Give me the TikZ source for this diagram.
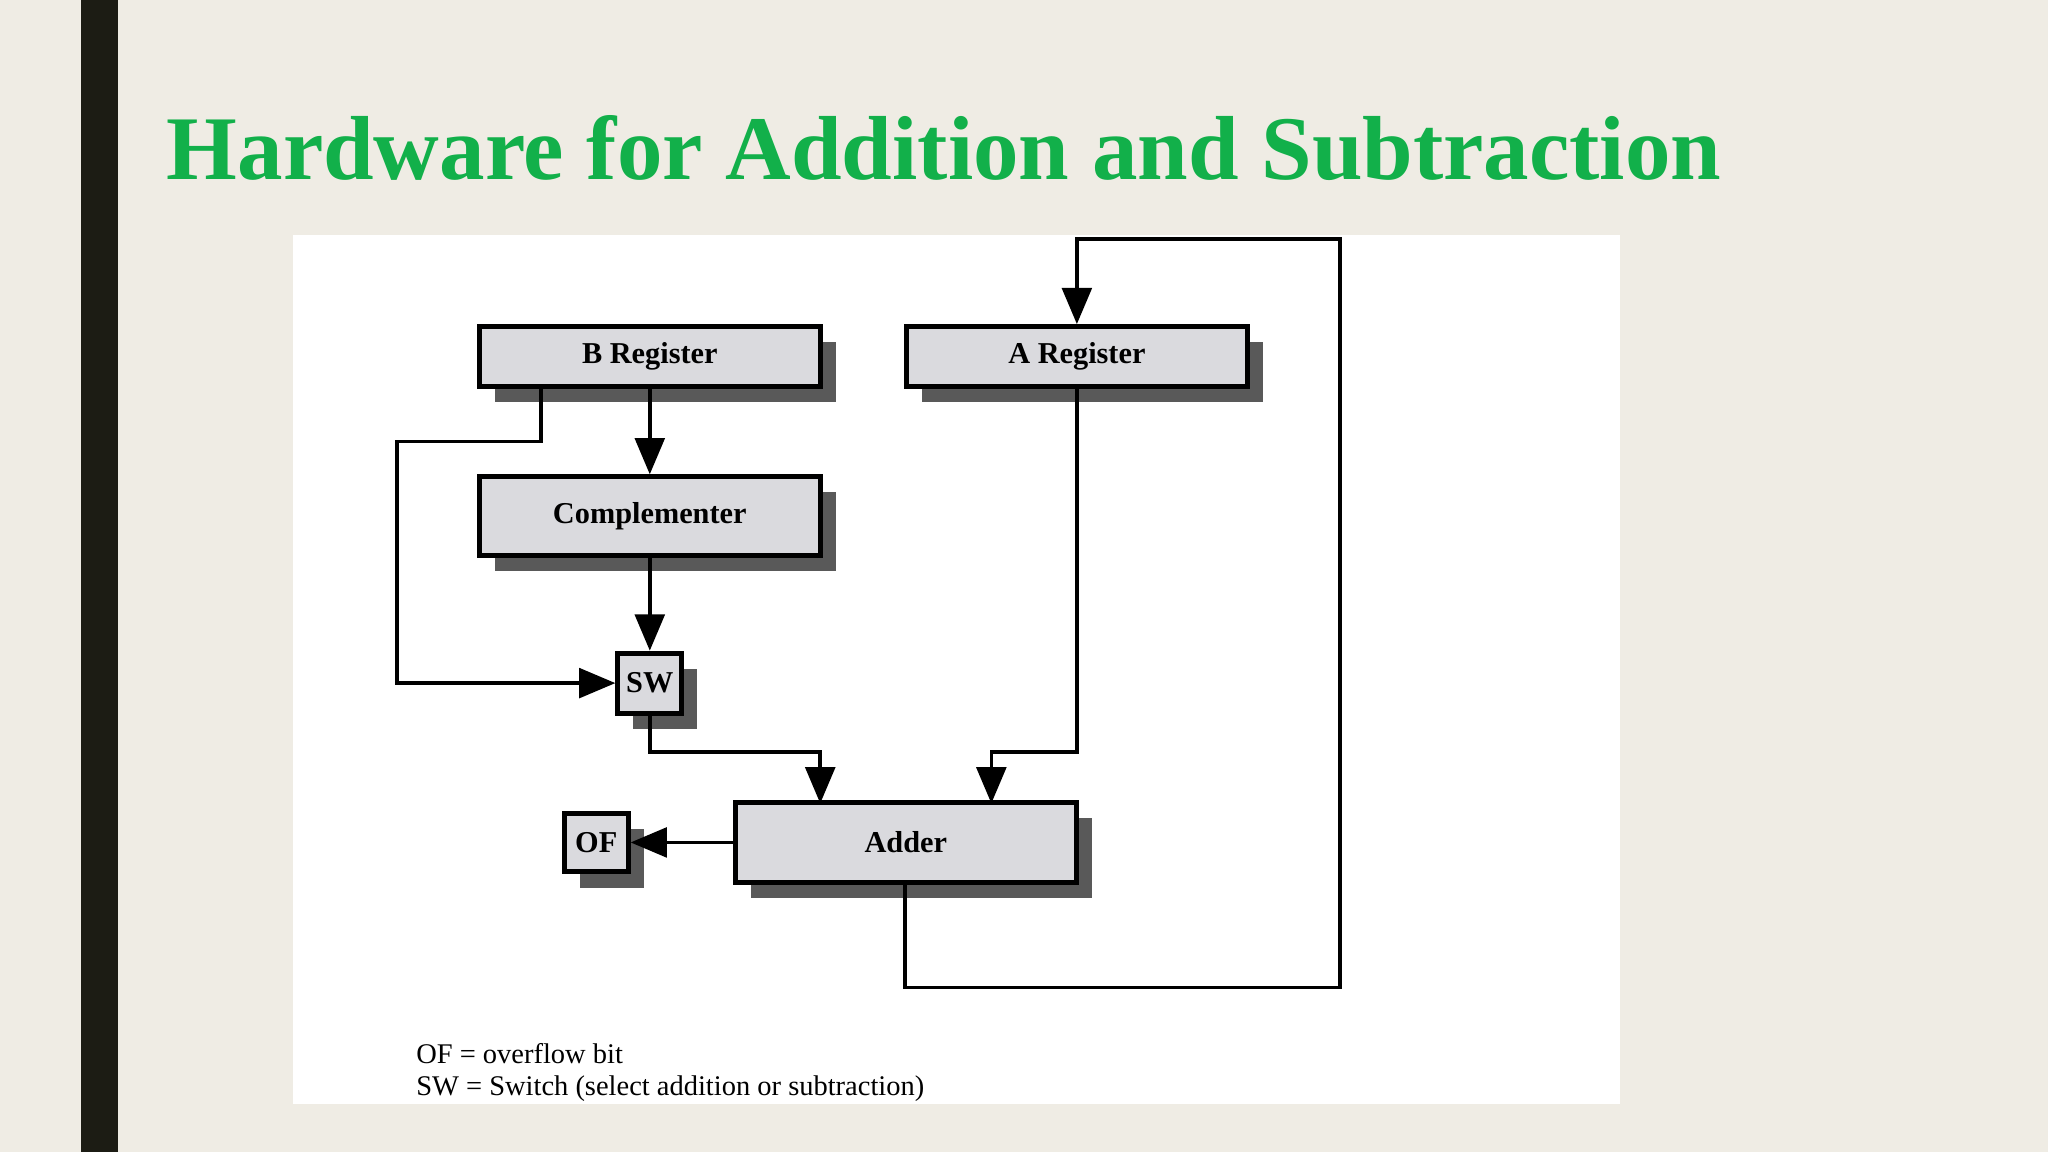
\documentclass[tikz,border=0pt]{standalone}
\usepackage{fontspec}
\setmainfont{Liberation Serif}
\usepackage{tikz}
\usetikzlibrary{arrows,shadows}
\definecolor{slidebg}{HTML}{EFECE4}
\definecolor{barcol}{HTML}{1C1C14}
\definecolor{titlegreen}{HTML}{12B04A}
\definecolor{boxgray}{HTML}{DADADE}
\tikzset{
  blk/.style={draw=black,line width=1.1pt,fill=boxgray,inner sep=0pt,
    font=\fontsize{6.6}{7}\selectfont\bfseries,
    copy shadow={shadow xshift=0.12cm,shadow yshift=-0.12cm,fill=black!65,draw=none}},
  wire/.style={line width=0.8pt,->}
}
\begin{document}
\begin{tikzpicture}[line cap=butt,line join=miter,>=triangle 45,x=0.01cm,y=-0.01cm]
		\useasboundingbox (0,0) rectangle (1568,882);
		\fill[slidebg] (0,0) rectangle (1568,882);
		\fill[barcol] (62,0) rectangle (90,882);
		\node[anchor=west,inner sep=0pt,text=titlegreen,font=\fontsize{19.8}{24}\selectfont\bfseries] (title) at (127,113) {Hardware for Addition and Subtraction};
		\fill[white] (224,180) rectangle (1240,845);
		% blocks
		\node[blk,minimum width=2.61cm,minimum height=0.46cm] (breg) at (497.5,273) {B Register};
		\node[blk,minimum width=2.61cm,minimum height=0.46cm] (areg) at (824.5,273) {A Register};
		\node[blk,minimum width=2.61cm,minimum height=0.6cm] (comp) at (497.5,395) {Complementer};
		\node[blk,minimum width=0.49cm,minimum height=0.46cm] (sw) at (497.5,523) {SW};
		\node[blk,minimum width=2.61cm,minimum height=0.61cm] (adder) at (693.5,645) {Adder};
		\node[blk,minimum width=0.49cm,minimum height=0.45cm] (of) at (456.5,645) {OF};
		% connectors
		\coordinate (bt) at (414,296);
		\coordinate (at) at (693,676);
		\draw[wire] (breg.south) -- (comp.north);
		\draw[wire] (bt) -- (414,338) -- (304,338) -- (304,523) -- (sw.west);
		\draw[wire] (comp.south) -- (sw.north);
		\draw[wire] (sw.south) -- (497.5,576) -- (628,576) -- (628,615);
		\draw[wire] (areg.south) -- (824.5,576) -- (759,576) -- (759,615);
		\draw[wire] (adder.west) -- (of.east);
		\draw[wire] (at) -- (693,756) -- (1026,756) -- (1026,183) -- (824.5,183) -- (areg.north);
		% legend
		\node[anchor=north west,align=left,inner sep=0pt,font=\fontsize{6.2}{7.1}\selectfont] (legend) at (318,798)
		  {OF = overflow bit\\SW = Switch (select addition or subtraction)};
\end{tikzpicture}
\end{document}
